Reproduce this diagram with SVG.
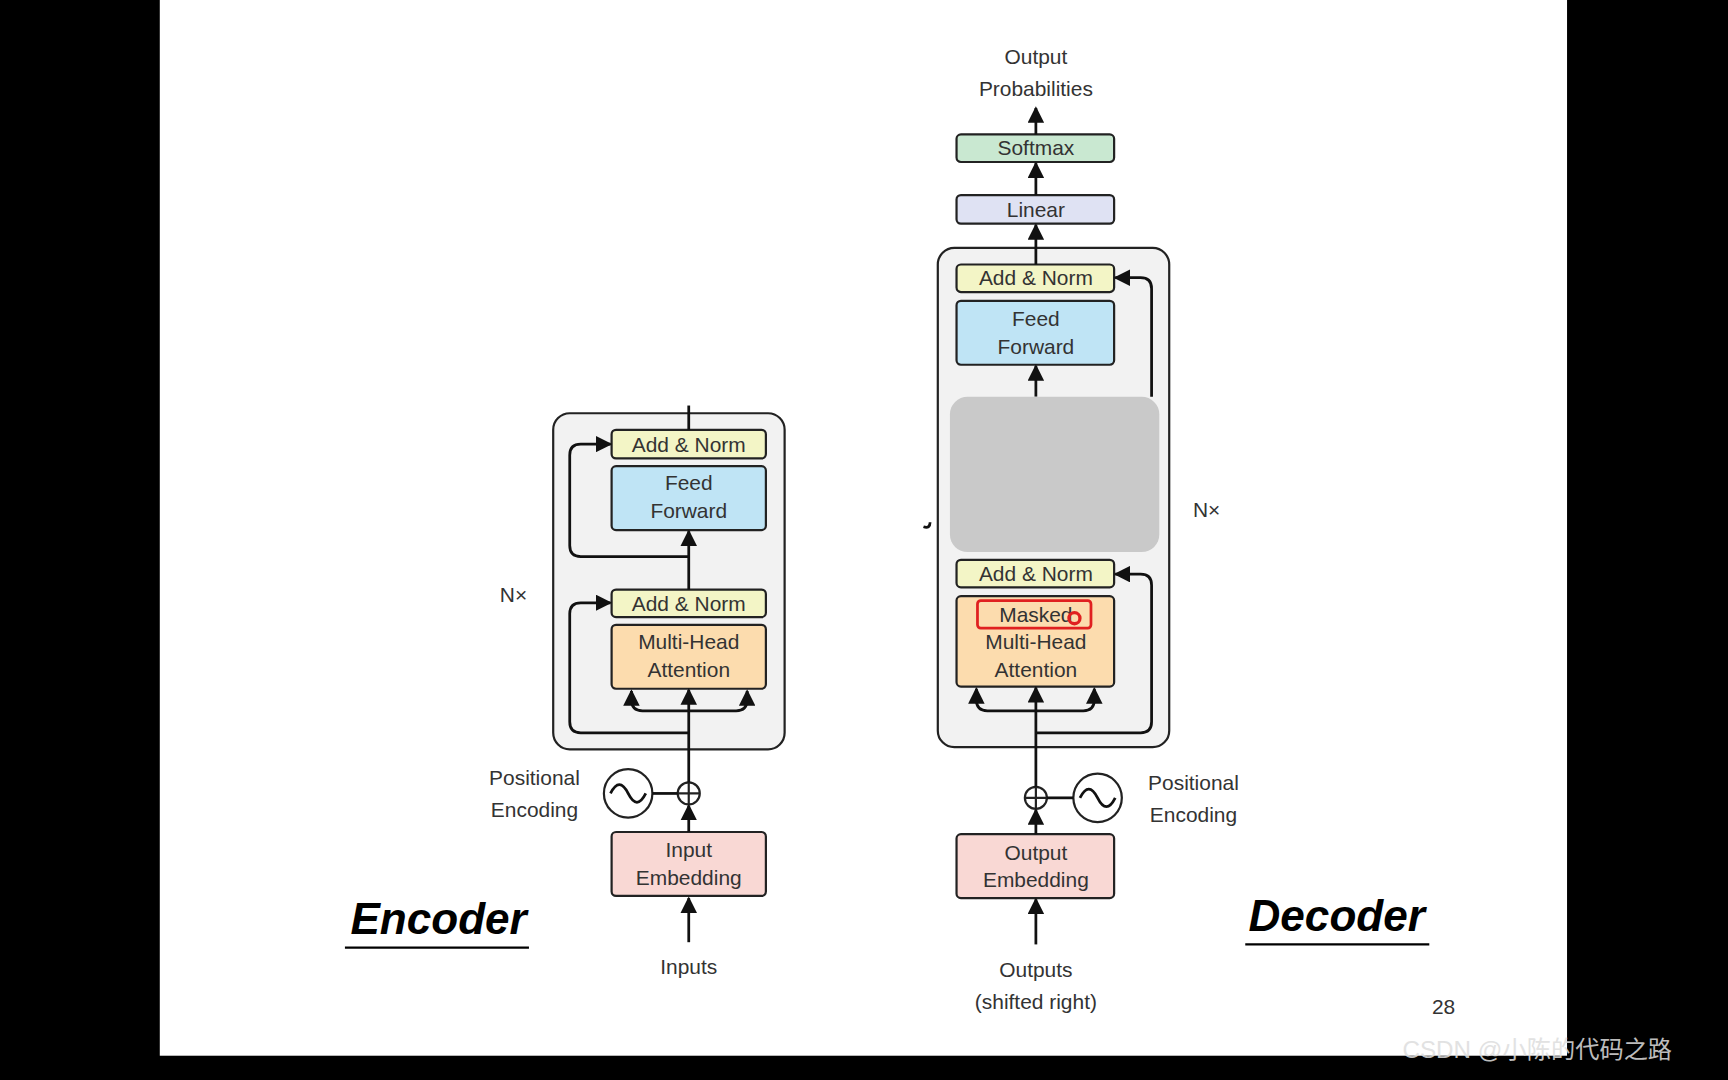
<svg xmlns="http://www.w3.org/2000/svg" width="1728" height="1080" viewBox="0 0 1728 1080">
<defs>
<marker id="ah" viewBox="0 0 10 10" refX="9" refY="5" markerWidth="6" markerHeight="6" orient="auto"><path d="M0,0 L10,5 L0,10 z" fill="#111"/></marker>
<style>
.t{font-family:"Liberation Sans",Arial,sans-serif;font-size:19px;fill:#333;text-anchor:middle}
.b{stroke:#222;stroke-width:2}
.ln{stroke:#111;stroke-width:2.5;fill:none}
.an{fill:#f3f5c6}.ff{fill:#bfe4f5}.mh{fill:#fcdcae}.em{fill:#f9d8d4}
</style>
</defs>
<rect width="1728" height="1080" fill="#000"/>
<g transform="scale(1.102)">
<rect x="145" y="0" width="1277" height="958" fill="#fff"/>
<g id="encoder">
<rect x="502" y="375" width="210" height="305" rx="15" fill="#f2f2f2" class="b"/>
<g id="enc-an2"><rect x="555" y="390" width="140" height="26" rx="4" class="an b"/><text x="625" y="410" class="t">Add &amp; Norm</text></g>
<g id="enc-ff"><rect x="555" y="423" width="140" height="58" rx="4" class="ff b"/><text x="625" y="445" class="t">Feed</text><text x="625" y="470" class="t">Forward</text></g>
<g id="enc-an1"><rect x="555" y="535" width="140" height="25" rx="4" class="an b"/><text x="625" y="554" class="t">Add &amp; Norm</text></g>
<g id="enc-mha"><rect x="555" y="567" width="140" height="58" rx="4" class="mh b"/><text x="625" y="589" class="t">Multi-Head</text><text x="625" y="614" class="t">Attention</text></g>
<g id="enc-emb"><rect x="555" y="755" width="140" height="58" rx="4" class="em b"/><text x="625" y="778" class="t">Input</text><text x="625" y="803" class="t">Embedding</text></g>
<g id="enc-pe"><circle cx="570" cy="720" r="22" fill="#fff" class="b"/><path d="M554,720 q8,-16 16,0 t16,0" class="ln" stroke-width="1.5"/></g>
<g id="enc-plus"><circle cx="625" cy="720" r="10" fill="#fff" class="b"/><path d="M615,720h20M625,710v20" stroke="#222" stroke-width="2"/></g>
<text x="485" y="712" class="t" font-size="21">Positional</text><text x="485" y="741" class="t" font-size="21">Encoding</text>
<text x="466" y="546" class="t" font-size="21">N×</text>
<text x="625" y="884" class="t" font-size="21">Inputs</text>
<text x="398" y="848" font-family="Liberation Sans,Arial,sans-serif" font-size="40" font-weight="bold" font-style="italic" text-anchor="middle" fill="#000">Encoder</text>
<line x1="313" y1="860" x2="480" y2="860" stroke="#000" stroke-width="2"/>
</g>
<g id="decoder">
<rect x="851" y="225" width="210" height="453" rx="15" fill="#f2f2f2" class="b"/>
<g id="dec-softmax"><rect x="868" y="122" width="143" height="25" rx="4" fill="#c9e8d1" class="b"/><text x="940" y="141" class="t">Softmax</text></g>
<g id="dec-linear"><rect x="868" y="177" width="143" height="26" rx="4" fill="#dfe2f3" class="b"/><text x="940" y="197" class="t">Linear</text></g>
<g id="dec-an3"><rect x="868" y="240" width="143" height="25" rx="4" class="an b"/><text x="940" y="259" class="t">Add &amp; Norm</text></g>
<g id="dec-ff"><rect x="868" y="273" width="143" height="58" rx="4" class="ff b"/><text x="940" y="296" class="t">Feed</text><text x="940" y="321" class="t">Forward</text></g>
<g id="dec-an1"><rect x="868" y="508" width="143" height="25" rx="4" class="an b"/><text x="940" y="527" class="t">Add &amp; Norm</text></g>
<g id="dec-mmha"><rect x="868" y="541" width="143" height="82" rx="4" class="mh b"/><text x="940" y="564" class="t">Masked</text><text x="940" y="589" class="t">Multi-Head</text><text x="940" y="614" class="t">Attention</text>
<rect x="887" y="545" width="103" height="25" rx="3" fill="none" stroke="#e02020" stroke-width="2.5"/><circle cx="975" cy="561" r="5" fill="none" stroke="#e02020" stroke-width="3"/></g>
<g id="dec-emb"><rect x="868" y="757" width="143" height="58" rx="4" class="em b"/><text x="940" y="780" class="t">Output</text><text x="940" y="805" class="t">Embedding</text></g>
<g id="dec-plus"><circle cx="940" cy="724" r="10" fill="#fff" class="b"/><path d="M930,724h20M940,714v20" stroke="#222" stroke-width="2"/></g>
<g id="dec-pe"><circle cx="996" cy="724" r="22" fill="#fff" class="b"/><path d="M980,724 q8,-16 16,0 t16,0" class="ln" stroke-width="1.5"/></g>
<text x="1083" y="717" class="t" font-size="21" fill="#555">Positional</text><text x="1083" y="746" class="t" font-size="21" fill="#555">Encoding</text>
<text x="940" y="58" class="t" font-size="21">Output</text><text x="940" y="87" class="t" font-size="21">Probabilities</text>
<text x="940" y="887" class="t" font-size="21">Outputs</text><text x="940" y="916" class="t" font-size="21">(shifted right)</text>
<text x="1095" y="469" class="t" font-size="21">N×</text>
<text x="1213" y="845" font-family="Liberation Sans,Arial,sans-serif" font-size="40" font-weight="bold" font-style="italic" text-anchor="middle" fill="#000">Decoder</text>
<line x1="1130" y1="857" x2="1297" y2="857" stroke="#000" stroke-width="2"/>
</g>
<g id="connectors">
<path class="ln" marker-end="url(#ah)" d="M625,855V815"/>
<path class="ln" marker-end="url(#ah)" d="M625,755V731"/>
<path class="ln" d="M592,720H615"/>
<path class="ln" marker-end="url(#ah)" d="M625,710V626"/>
<path class="ln" marker-end="url(#ah)" d="M625,645H583Q573,645 573,635V627"/>
<path class="ln" marker-end="url(#ah)" d="M625,645H668Q678,645 678,635V627"/>
<path class="ln" marker-end="url(#ah)" d="M625,665H527Q517,665 517,655V557Q517,547 527,547H554"/>
<path class="ln" marker-end="url(#ah)" d="M625,535V482"/>
<path class="ln" marker-end="url(#ah)" d="M625,505H527Q517,505 517,495V413Q517,403 527,403H554"/>
<path class="ln" d="M625,390V368"/>
<path class="ln" marker-end="url(#ah)" d="M940,857V816"/>
<path class="ln" marker-end="url(#ah)" d="M940,757V735"/>
<path class="ln" d="M974,724H950"/>
<path class="ln" marker-end="url(#ah)" d="M940,714V624"/>
<path class="ln" marker-end="url(#ah)" d="M940,645H896Q886,645 886,635V625"/>
<path class="ln" marker-end="url(#ah)" d="M940,645H983Q993,645 993,635V625"/>
<path class="ln" marker-end="url(#ah)" d="M940,665H1035Q1045,665 1045,655V531Q1045,521 1035,521H1012"/>
<path class="ln" marker-end="url(#ah)" d="M940,360V332"/>
<path class="ln" marker-end="url(#ah)" d="M1045,360V262Q1045,252 1035,252H1012"/>
<path class="ln" marker-end="url(#ah)" d="M940,240V204"/>
<path class="ln" marker-end="url(#ah)" d="M940,177V148"/>
<path class="ln" marker-end="url(#ah)" d="M940,122V98"/>
<path class="ln" d="M838,478q6,2 6,-4" stroke-width="1.5"/>
</g>
<rect x="862" y="360" width="190" height="141" rx="16" fill="#c9c9c9"/>
<text x="1310" y="920" class="t" font-size="16" fill="#444">28</text>
<text x="1395" y="960" font-family="Liberation Sans,'Noto Sans CJK SC',sans-serif" font-size="22" text-anchor="middle" fill="#ddd" opacity="0.85">CSDN @小陈的代码之路</text>
</g>
</svg>
